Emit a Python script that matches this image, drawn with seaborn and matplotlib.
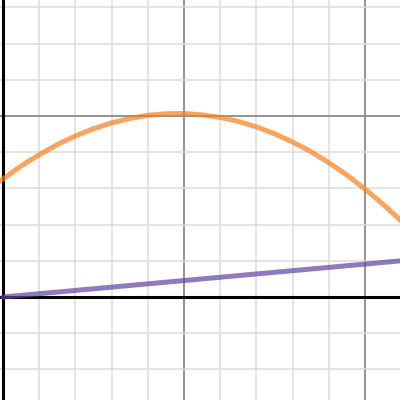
import numpy as np
import pandas as pd
import matplotlib
matplotlib.use("Agg")
import matplotlib.pyplot as plt
from matplotlib.ticker import MultipleLocator
import seaborn as sns

# Orange curve: points
curve_x = [-0.1, 0.0, 0.5, 1.0, 1.5, 2.0, 2.5, 3.0, 3.5, 4.0, 4.5, 5.0, 5.5,
           6.0, 6.5, 7.0, 7.5, 8.0, 8.5, 9.0, 9.5, 10.0, 10.5, 11.0]
curve_y = [3.19, 3.26, 3.62, 3.93, 4.21, 4.45, 4.65, 4.81, 4.93, 5.02, 5.06, 5.07, 5.03,
           4.96, 4.85, 4.70, 4.51, 4.28, 4.02, 3.71, 3.37, 2.98, 2.56, 2.10]

# Purple line: points
line_x = [0.0, 11.0]
line_y = [0.0, 1.0]

sns.set_style("white")

fig = plt.figure(figsize=(4, 4), dpi=100)
ax = fig.add_axes([0, 0, 1, 1])

ax.xaxis.set_major_locator(MultipleLocator(5))
ax.xaxis.set_minor_locator(MultipleLocator(1))
ax.yaxis.set_major_locator(MultipleLocator(5))
ax.yaxis.set_minor_locator(MultipleLocator(1))
ax.grid(which="minor", color="#dcdcdc", linewidth=1.1, zorder=0)
ax.grid(which="major", color="#8a8a8a", linewidth=1.3, zorder=0)
ax.set_axisbelow(True)
ax.tick_params(which="both", length=0, labelbottom=False, labelleft=False)
for s in ax.spines.values():
    s.set_visible(False)

ax.axhline(0, color="black", linewidth=2.2, zorder=1)
ax.axvline(0, color="black", linewidth=2.2, zorder=1)

df_curve = pd.DataFrame({"x": curve_x, "y": curve_y})
df_line = pd.DataFrame({"x": line_x, "y": line_y})
sns.lineplot(data=df_curve, x="x", y="y", ax=ax, color="#fa7e19", alpha=0.7,
             linewidth=3.6, sort=False, zorder=3)
sns.lineplot(data=df_line, x="x", y="y", ax=ax, color="#6042a6", alpha=0.7,
             linewidth=3.6, sort=False, zorder=3)

ax.set_xlim(-0.083, 10.967)
ax.set_ylim(-2.845, 8.204)
ax.set_xlabel("")
ax.set_ylabel("")

fig.savefig("out.png", dpi=100)
